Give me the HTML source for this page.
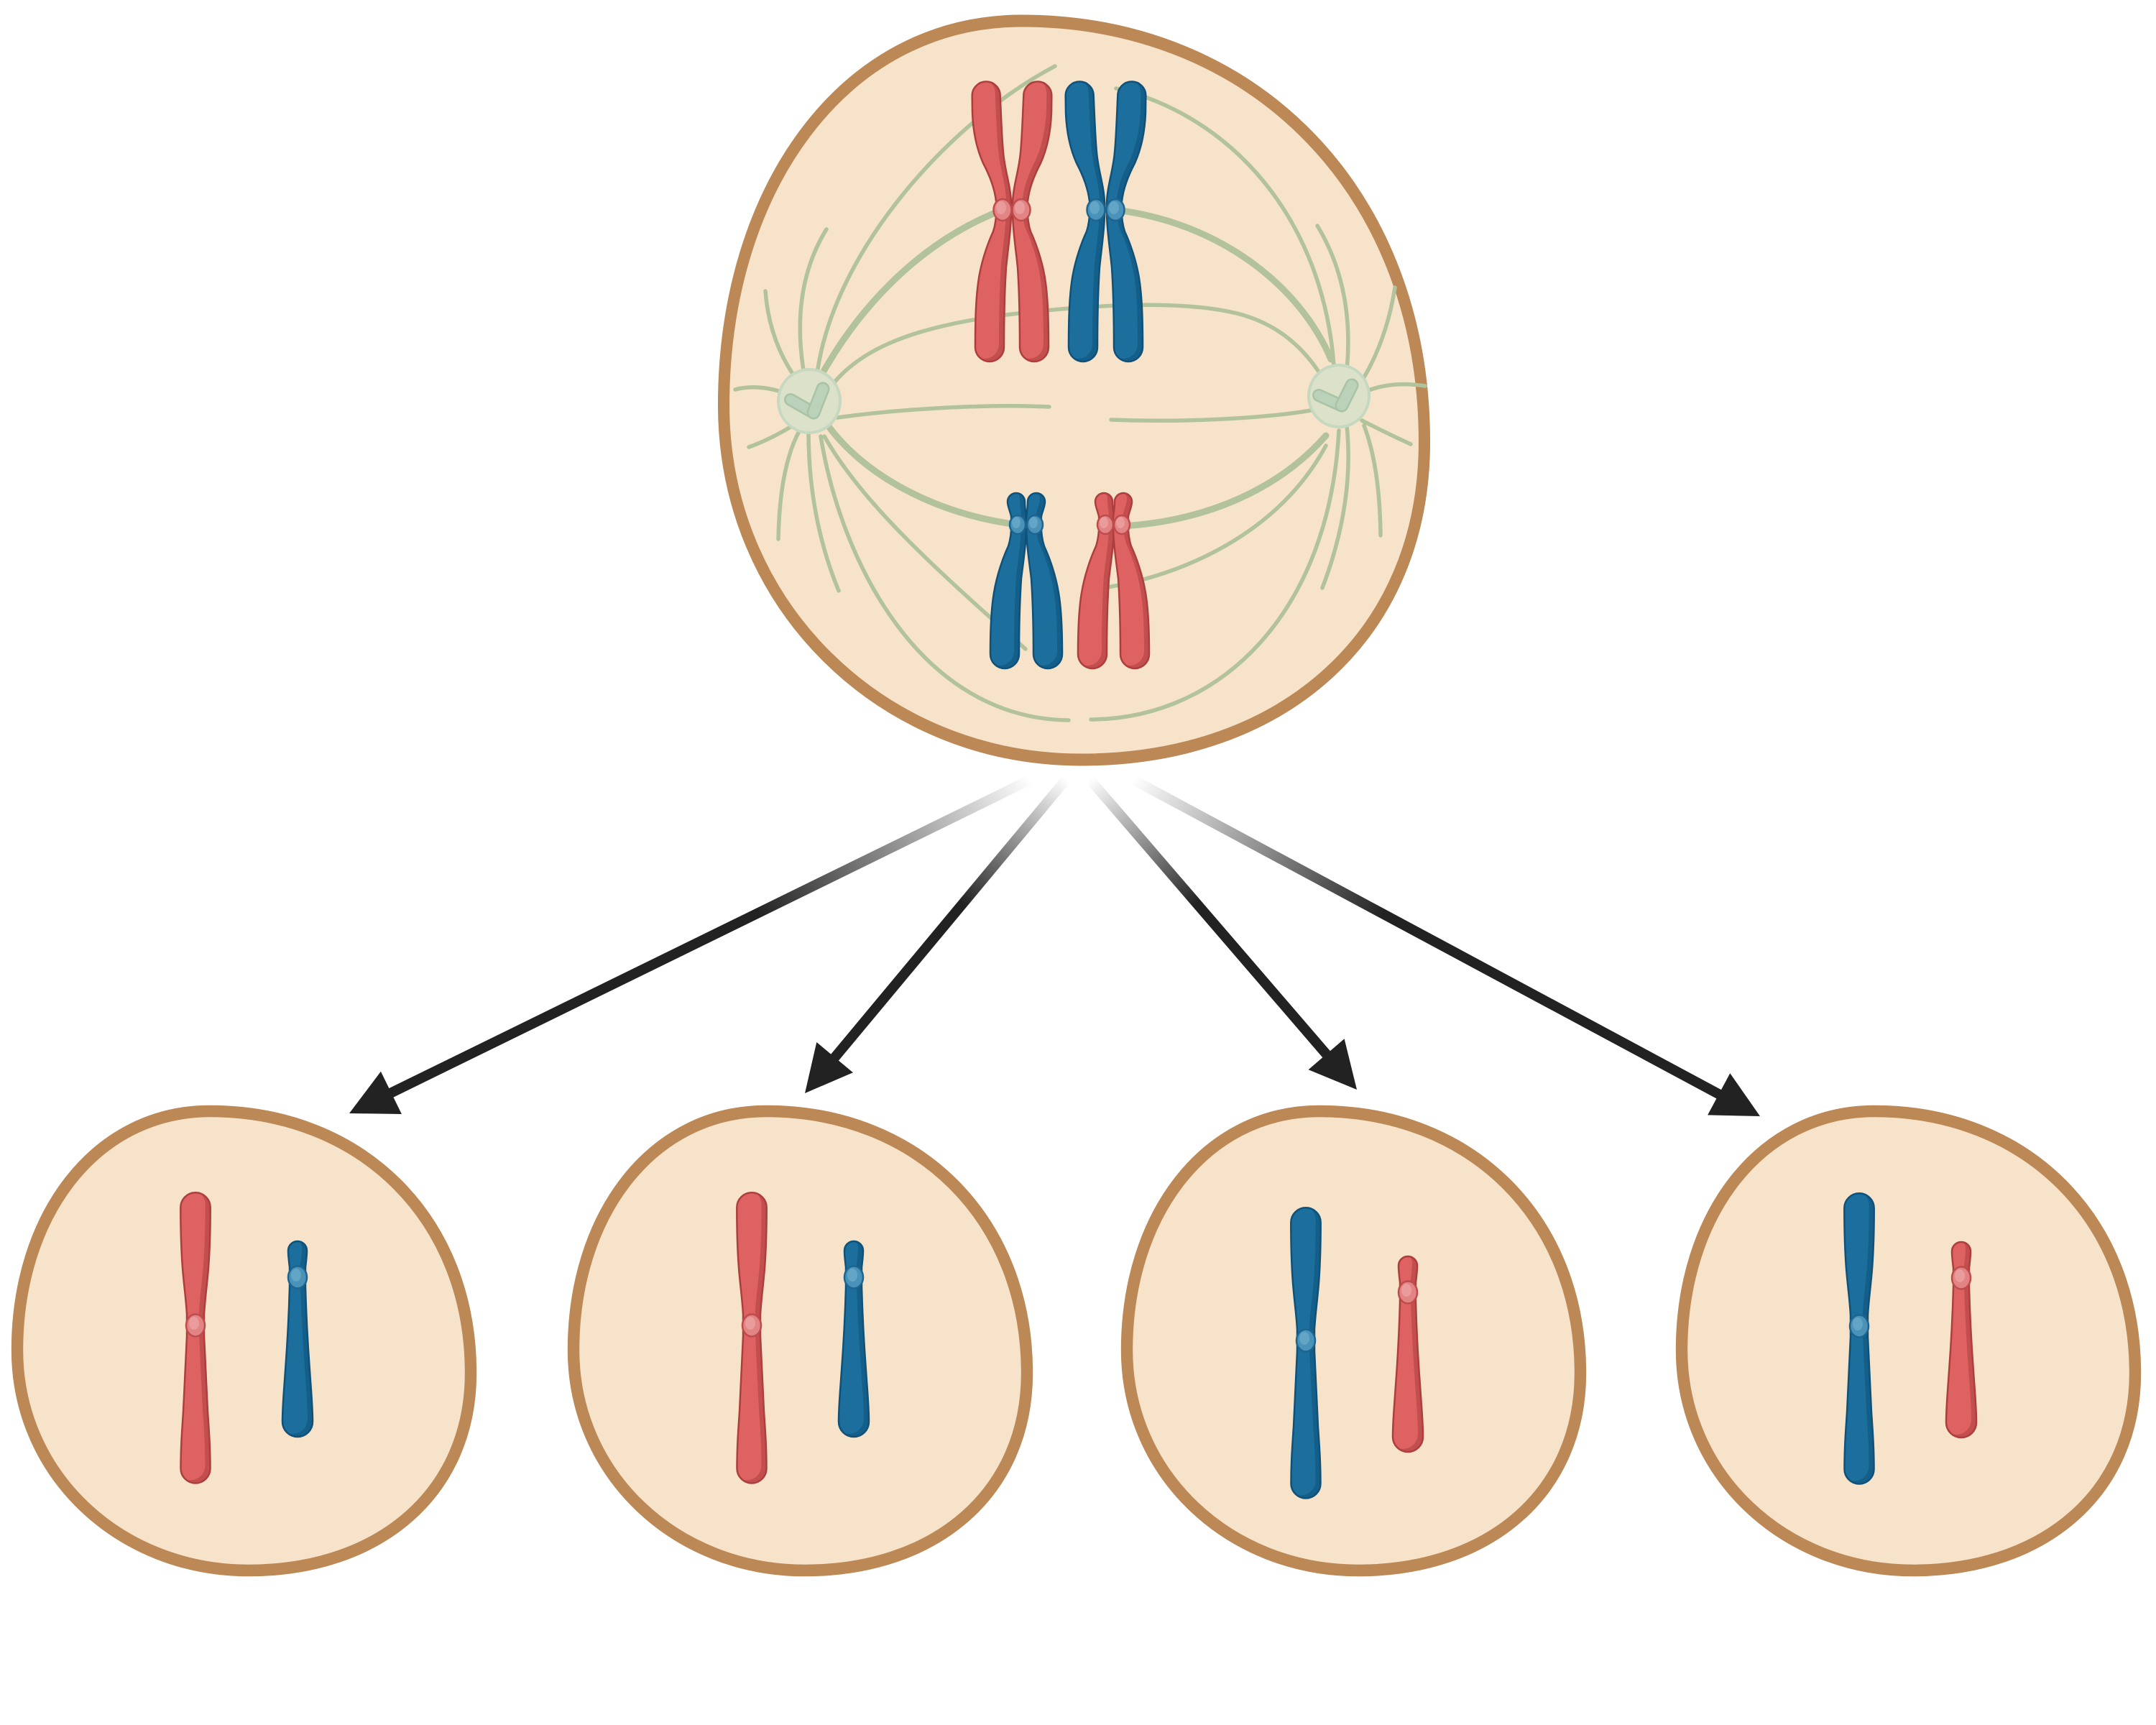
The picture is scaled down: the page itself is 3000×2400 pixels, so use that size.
<!DOCTYPE html>
<html><head><meta charset="utf-8"><style>html,body{margin:0;padding:0;background:#fff;}svg{display:block}</style></head>
<body>
<svg xmlns="http://www.w3.org/2000/svg" xmlns:xlink="http://www.w3.org/1999/xlink" width="3000" height="2400" viewBox="0 0 3000 2400">
<defs>
<path id="cell" d="M 425,0 C 760,0 1000,235 1000,570 C 1000,830 800,1000 510,1000 C 225,1000 0,790 0,520 C 0,230 170,0 425,0 Z"/>
<path id="xc" d="M -3.3,-159 C -2,-130 -1,-100 1,-80 C 3,-55 11,-35 12,-10 C 13,20 8,50 5,80 C 3,110 2,150 2,191 A 20,20 0 0 1 -38,191 C -38,150 -37,120 -33,95 C -29,70 -20,45 -13,30 C -9,18 -8,5 -9,-12 C -11,-30 -18,-48 -27,-65 C -36,-85 -41,-110 -42,-135 L -42.3,-159 A 19.5,19.5 0 0 1 -3.3,-159 Z"/>
<path id="sc" d="M -14,-32 A 12,12 0 0 1 10,-32 C 10,-24 11,-18 12,-10 C 13,20 8,50 5,75 C 3,105 2,140 2,180 A 20,20 0 0 1 -38,180 C -38,145 -37,118 -33,95 C -29,70 -20,45 -13,30 C -9,18 -8,5 -9,-12 C -11,-20 -14,-26 -14,-32 Z"/>
<path id="long" d="M -20.7,-164 A 20.7,20.7 0 0 1 20.7,-164 C 20.7,-130 19.5,-100 18,-80 C 16,-55 13,-35 12,-15 L 12,15 C 13,40 15,80 17,120 C 19,150 20.5,170 20.5,199 A 20.5,20.5 0 0 1 -20.5,199 C -20.5,170 -19,150 -17,120 C -15,80 -13,40 -12,15 L -12,-15 C -13,-35 -16,-55 -18,-80 C -19.5,-100 -20.7,-130 -20.7,-164 Z"/>
<path id="short" d="M -13,-37 A 13,13 0 0 1 13,-37 C 13,-30 12,-22 11,-14 L 11,14 C 12,50 14,90 17,130 C 19,160 21,180 21,201 A 21,21 0 0 1 -21,201 C -21,180 -19,160 -17,130 C -14,90 -12,50 -11,14 L -11,-14 C -12,-22 -13,-30 -13,-37 Z"/>
<clipPath id="cxc"><use xlink:href="#xc"/></clipPath>
<clipPath id="csc"><use xlink:href="#sc"/></clipPath>
<clipPath id="clong"><use xlink:href="#long"/></clipPath>
<clipPath id="cshort"><use xlink:href="#short"/></clipPath>
<linearGradient id="g1" gradientUnits="userSpaceOnUse" x1="1473.4" y1="1065.2" x2="486" y2="1549"><stop offset="0" stop-color="#fff"/><stop offset="0.04" stop-color="#fff"/><stop offset="0.425" stop-color="#222"/><stop offset="1" stop-color="#222"/></linearGradient>
<linearGradient id="g2" gradientUnits="userSpaceOnUse" x1="1511.8" y1="1050.4" x2="1120" y2="1521"><stop offset="0" stop-color="#fff"/><stop offset="0.073" stop-color="#fff"/><stop offset="0.44" stop-color="#222"/><stop offset="1" stop-color="#222"/></linearGradient>
<linearGradient id="g3" gradientUnits="userSpaceOnUse" x1="1487.7" y1="1050.9" x2="1888" y2="1516"><stop offset="0" stop-color="#fff"/><stop offset="0.073" stop-color="#fff"/><stop offset="0.444" stop-color="#222"/><stop offset="1" stop-color="#222"/></linearGradient>
<linearGradient id="g4" gradientUnits="userSpaceOnUse" x1="1537.4" y1="1063.7" x2="2449" y2="1553"><stop offset="0" stop-color="#fff"/><stop offset="0.043" stop-color="#fff"/><stop offset="0.426" stop-color="#222"/><stop offset="1" stop-color="#222"/></linearGradient>
</defs>

<!-- Arrows (under cells) -->
<g stroke-width="14" fill="none" stroke-linecap="butt">
<line x1="1473.4" y1="1065.2" x2="535.4" y2="1524.8" stroke="url(#g1)"/>
<line x1="1511.8" y1="1050.4" x2="1155.2" y2="1478.8" stroke="url(#g2)"/>
<line x1="1487.7" y1="1050.9" x2="1852.1" y2="1474.3" stroke="url(#g3)"/>
<line x1="1537.4" y1="1063.7" x2="2400.5" y2="1527" stroke="url(#g4)"/>
</g>
<g fill="#222">
<polygon points="486,1549 558.9,1550 529.9,1490.8"/>
<polygon points="1120,1521 1186.9,1492.2 1136.3,1450"/>
<polygon points="1888,1516 1820.6,1488.2 1870.6,1445.2"/>
<polygon points="2449,1553 2376.1,1551.4 2407.3,1493.2"/>
</g>

<!-- Cells -->
<g fill="#F6E3C9" stroke="#BC8856" stroke-linejoin="round">
<use xlink:href="#cell" transform="translate(1007,29) scale(0.975,1.028)" stroke-width="16.5"/>
<use xlink:href="#cell" transform="translate(24,1546) scale(0.631,0.639)" stroke-width="26"/>
<use xlink:href="#cell" transform="translate(798,1546) scale(0.631,0.639)" stroke-width="26"/>
<use xlink:href="#cell" transform="translate(1568,1546) scale(0.631,0.639)" stroke-width="26"/>
<use xlink:href="#cell" transform="translate(2340,1546) scale(0.631,0.639)" stroke-width="26"/>
</g>

<!-- Spindle fibers -->
<g fill="none" stroke="#B2C29B" stroke-width="5.5" stroke-linecap="round">
<path d="M 1023,542 Q 1053,534 1090,546"/>
<path d="M 1042,622 Q 1070,612 1100,594"/>
<path d="M 1065,405 Q 1070,470 1103,520"/>
<path d="M 1150,319 Q 1100,400 1118,515"/>
<path d="M 1083,750 Q 1085,650 1112,600"/>
<path d="M 1167,822 Q 1125,720 1125,600"/>
<path d="M 1468,92 C 1320,170 1160,350 1137,520"/>
<path d="M 1160,533 C 1200,485 1270,455 1400,438 C 1500,426 1640,415 1725,437 C 1780,452 1815,485 1840,525"/>
<path d="M 1165,581 C 1260,568 1380,562 1460,566"/>
<path d="M 1546,584 C 1650,588 1760,582 1824,571"/>
<path d="M 1147,607 C 1200,700 1300,790 1427,903"/>
<path d="M 1142,607 C 1170,780 1280,1000 1487,1002"/>
<path d="M 1983,537 Q 1937,530 1902,544"/>
<path d="M 1963,618 Q 1930,603 1895,585"/>
<path d="M 1941,400 Q 1930,470 1898,525"/>
<path d="M 1833,314 Q 1885,400 1874,515"/>
<path d="M 1921,745 Q 1920,650 1898,592"/>
<path d="M 1840,818 Q 1885,700 1874,592"/>
<path d="M 1553,123 C 1710,160 1840,300 1856,508"/>
<path d="M 1535,818 C 1650,800 1780,740 1845,620"/>
<path d="M 1518,1001 C 1700,1000 1850,850 1863,599"/>
</g>
<g fill="none" stroke="#B2C29B" stroke-width="9" stroke-linecap="round">
<path d="M 1147,515 C 1190,440 1270,340 1395,292"/>
<path d="M 1150,589 C 1200,660 1300,715 1416,730"/>
<path d="M 1852,500 C 1810,400 1700,310 1552,292"/>
<path d="M 1845,606 C 1780,680 1680,725 1561,732"/>
</g>

<!-- Centrosomes -->
<g transform="translate(1126,558)">
<ellipse rx="43" ry="44" fill="#DCE1CA" stroke="#C6D8C0" stroke-width="4"/>
<line x1="-26" y1="-2" x2="2" y2="14" stroke="#A9C3A6" stroke-width="18" stroke-linecap="round"/>
<line x1="-26" y1="-2" x2="2" y2="14" stroke="#BCD1B9" stroke-width="13" stroke-linecap="round"/>
<line x1="19" y1="-17" x2="6" y2="16" stroke="#A9C3A6" stroke-width="19" stroke-linecap="round"/>
<line x1="19" y1="-17" x2="6" y2="16" stroke="#BCD1B9" stroke-width="14" stroke-linecap="round"/>
</g>
<g transform="translate(1863,551)">
<ellipse rx="42" ry="43" fill="#DCE1CA" stroke="#C6D8C0" stroke-width="4"/>
<line x1="-28" y1="-1" x2="3" y2="13" stroke="#A9C3A6" stroke-width="18" stroke-linecap="round"/>
<line x1="-28" y1="-1" x2="3" y2="13" stroke="#BCD1B9" stroke-width="13" stroke-linecap="round"/>
<line x1="18" y1="-15" x2="4" y2="13" stroke="#A9C3A6" stroke-width="19" stroke-linecap="round"/>
<line x1="18" y1="-15" x2="4" y2="13" stroke="#BCD1B9" stroke-width="14" stroke-linecap="round"/>
</g>

<!-- Top cell: X chromosomes -->
<g transform="translate(1395,292)"><use xlink:href="#xc" fill="#C34E4E"/><g clip-path="url(#cxc)"><use xlink:href="#xc" x="-7" y="-4" fill="#DE6262"/></g><use xlink:href="#xc" fill="none" stroke="#AE3E3E" stroke-width="2.5"/></g>
<g transform="translate(1421,292) scale(-1,1)"><use xlink:href="#xc" fill="#C34E4E"/><g clip-path="url(#cxc)"><use xlink:href="#xc" x="7" y="-4" fill="#DE6262"/></g><use xlink:href="#xc" fill="none" stroke="#AE3E3E" stroke-width="2.5"/></g>
<g transform="translate(1525,292)"><use xlink:href="#xc" fill="#145E8A"/><g clip-path="url(#cxc)"><use xlink:href="#xc" x="-7" y="-4" fill="#1C6F9D"/></g><use xlink:href="#xc" fill="none" stroke="#0F5179" stroke-width="2.5"/></g>
<g transform="translate(1552,292) scale(-1,1)"><use xlink:href="#xc" fill="#145E8A"/><g clip-path="url(#cxc)"><use xlink:href="#xc" x="7" y="-4" fill="#1C6F9D"/></g><use xlink:href="#xc" fill="none" stroke="#0F5179" stroke-width="2.5"/></g>
<g fill="#E38484" stroke="#BE4C4C" stroke-width="2.5">
<ellipse cx="1395" cy="292" rx="12.5" ry="15"/><ellipse cx="1421" cy="292" rx="12.5" ry="15"/>
</g>
<g fill="#EA9B9B"><ellipse cx="1393" cy="289" rx="7" ry="9"/><ellipse cx="1419" cy="289" rx="7" ry="9"/></g>
<g fill="#4B92B8" stroke="#1C6590" stroke-width="2.5">
<ellipse cx="1525" cy="292" rx="12.5" ry="15"/><ellipse cx="1552" cy="292" rx="12.5" ry="15"/>
</g>
<g fill="#62A5C6"><ellipse cx="1523" cy="289" rx="7" ry="9"/><ellipse cx="1550" cy="289" rx="7" ry="9"/></g>

<!-- Top cell: lower chromosome pairs -->
<g transform="translate(1416,730)"><use xlink:href="#sc" fill="#145E8A"/><g clip-path="url(#csc)"><use xlink:href="#sc" x="-7" y="-4" fill="#1C6F9D"/></g><use xlink:href="#sc" fill="none" stroke="#0F5179" stroke-width="2.5"/></g>
<g transform="translate(1440,730) scale(-1,1)"><use xlink:href="#sc" fill="#145E8A"/><g clip-path="url(#csc)"><use xlink:href="#sc" x="7" y="-4" fill="#1C6F9D"/></g><use xlink:href="#sc" fill="none" stroke="#0F5179" stroke-width="2.5"/></g>
<g transform="translate(1538,730)"><use xlink:href="#sc" fill="#C34E4E"/><g clip-path="url(#csc)"><use xlink:href="#sc" x="-7" y="-4" fill="#DE6262"/></g><use xlink:href="#sc" fill="none" stroke="#AE3E3E" stroke-width="2.5"/></g>
<g transform="translate(1561,730) scale(-1,1)"><use xlink:href="#sc" fill="#C34E4E"/><g clip-path="url(#csc)"><use xlink:href="#sc" x="7" y="-4" fill="#DE6262"/></g><use xlink:href="#sc" fill="none" stroke="#AE3E3E" stroke-width="2.5"/></g>
<g fill="#4B92B8" stroke="#1C6590" stroke-width="2.5">
<ellipse cx="1416" cy="730" rx="11" ry="13"/><ellipse cx="1440" cy="730" rx="11" ry="13"/>
</g>
<g fill="#62A5C6"><ellipse cx="1414" cy="727" rx="6" ry="8"/><ellipse cx="1438" cy="727" rx="6" ry="8"/></g>
<g fill="#E38484" stroke="#BE4C4C" stroke-width="2.5">
<ellipse cx="1538" cy="730" rx="11" ry="13"/><ellipse cx="1561" cy="730" rx="11" ry="13"/>
</g>
<g fill="#EA9B9B"><ellipse cx="1536" cy="727" rx="6" ry="8"/><ellipse cx="1559" cy="727" rx="6" ry="8"/></g>

<!-- Bottom cells chromosomes -->
<!-- Cell 1 -->
<g transform="translate(272,1844)"><use xlink:href="#long" fill="#C34E4E"/><g clip-path="url(#clong)"><use xlink:href="#long" x="-7" y="-4" fill="#DE6262"/></g><use xlink:href="#long" fill="none" stroke="#AE3E3E" stroke-width="2.5"/><ellipse rx="13" ry="15.5" fill="#E38484" stroke="#BE4C4C" stroke-width="2.5"/><ellipse cx="-2" cy="-3" rx="7" ry="9" fill="#EA9B9B"/></g>
<g transform="translate(414,1777)"><use xlink:href="#short" fill="#145E8A"/><g clip-path="url(#cshort)"><use xlink:href="#short" x="-7" y="-4" fill="#1C6F9D"/></g><use xlink:href="#short" fill="none" stroke="#0F5179" stroke-width="2.5"/><ellipse rx="13" ry="15.5" fill="#4B92B8" stroke="#1C6590" stroke-width="2.5"/><ellipse cx="-2" cy="-3" rx="7" ry="9" fill="#62A5C6"/></g>
<!-- Cell 2 -->
<g transform="translate(1046,1844)"><use xlink:href="#long" fill="#C34E4E"/><g clip-path="url(#clong)"><use xlink:href="#long" x="-7" y="-4" fill="#DE6262"/></g><use xlink:href="#long" fill="none" stroke="#AE3E3E" stroke-width="2.5"/><ellipse rx="13" ry="15.5" fill="#E38484" stroke="#BE4C4C" stroke-width="2.5"/><ellipse cx="-2" cy="-3" rx="7" ry="9" fill="#EA9B9B"/></g>
<g transform="translate(1188,1777)"><use xlink:href="#short" fill="#145E8A"/><g clip-path="url(#cshort)"><use xlink:href="#short" x="-7" y="-4" fill="#1C6F9D"/></g><use xlink:href="#short" fill="none" stroke="#0F5179" stroke-width="2.5"/><ellipse rx="13" ry="15.5" fill="#4B92B8" stroke="#1C6590" stroke-width="2.5"/><ellipse cx="-2" cy="-3" rx="7" ry="9" fill="#62A5C6"/></g>
<!-- Cell 3 -->
<g transform="translate(1817,1865)"><use xlink:href="#long" fill="#145E8A"/><g clip-path="url(#clong)"><use xlink:href="#long" x="-7" y="-4" fill="#1C6F9D"/></g><use xlink:href="#long" fill="none" stroke="#0F5179" stroke-width="2.5"/><ellipse rx="13" ry="15.5" fill="#4B92B8" stroke="#1C6590" stroke-width="2.5"/><ellipse cx="-2" cy="-3" rx="7" ry="9" fill="#62A5C6"/></g>
<g transform="translate(1959,1798)"><use xlink:href="#short" fill="#C34E4E"/><g clip-path="url(#cshort)"><use xlink:href="#short" x="-7" y="-4" fill="#DE6262"/></g><use xlink:href="#short" fill="none" stroke="#AE3E3E" stroke-width="2.5"/><ellipse rx="13" ry="15.5" fill="#E38484" stroke="#BE4C4C" stroke-width="2.5"/><ellipse cx="-2" cy="-3" rx="7" ry="9" fill="#EA9B9B"/></g>
<!-- Cell 4 -->
<g transform="translate(2587,1845)"><use xlink:href="#long" fill="#145E8A"/><g clip-path="url(#clong)"><use xlink:href="#long" x="-7" y="-4" fill="#1C6F9D"/></g><use xlink:href="#long" fill="none" stroke="#0F5179" stroke-width="2.5"/><ellipse rx="13" ry="15.5" fill="#4B92B8" stroke="#1C6590" stroke-width="2.5"/><ellipse cx="-2" cy="-3" rx="7" ry="9" fill="#62A5C6"/></g>
<g transform="translate(2729,1778)"><use xlink:href="#short" fill="#C34E4E"/><g clip-path="url(#cshort)"><use xlink:href="#short" x="-7" y="-4" fill="#DE6262"/></g><use xlink:href="#short" fill="none" stroke="#AE3E3E" stroke-width="2.5"/><ellipse rx="13" ry="15.5" fill="#E38484" stroke="#BE4C4C" stroke-width="2.5"/><ellipse cx="-2" cy="-3" rx="7" ry="9" fill="#EA9B9B"/></g>
</svg>
</body></html>
